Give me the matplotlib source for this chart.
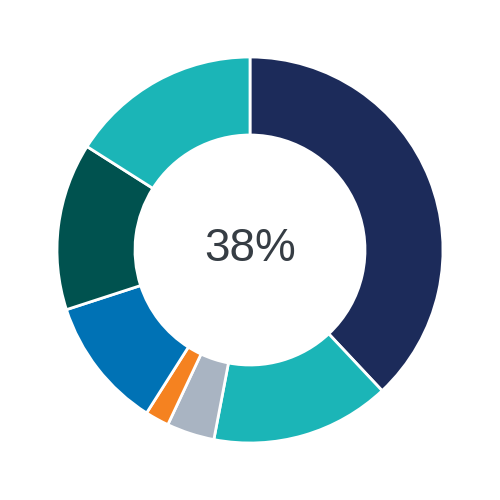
import matplotlib
matplotlib.use("Agg")
import matplotlib.pyplot as plt

# slice shares in percent, clockwise from the top
values = [38, 15, 4, 2, 11, 14, 16]
colors = ["#1c2b5a", "#1bb5b7", "#a9b4c2", "#f58220", "#0072b5", "#00524f", "#1bb5b7"]
center_label = "38%"

fig = plt.figure(figsize=(5, 5), dpi=100)
ax = fig.add_axes([0, 0, 1, 1])
ax.pie(values, colors=colors, startangle=90, counterclock=False,
       radius=193, center=(0, 0),
       wedgeprops=dict(width=78, edgecolor="white", linewidth=2.0))
ax.set_xlim(-250, 250)
ax.set_ylim(-250, 250)
ax.set_aspect("equal")
ax.axis("off")
ax.text(0, 1, center_label, ha="center", va="center", fontsize=33,
        color="#363d44", family="Liberation Sans")
fig.savefig("out.png", dpi=100)
